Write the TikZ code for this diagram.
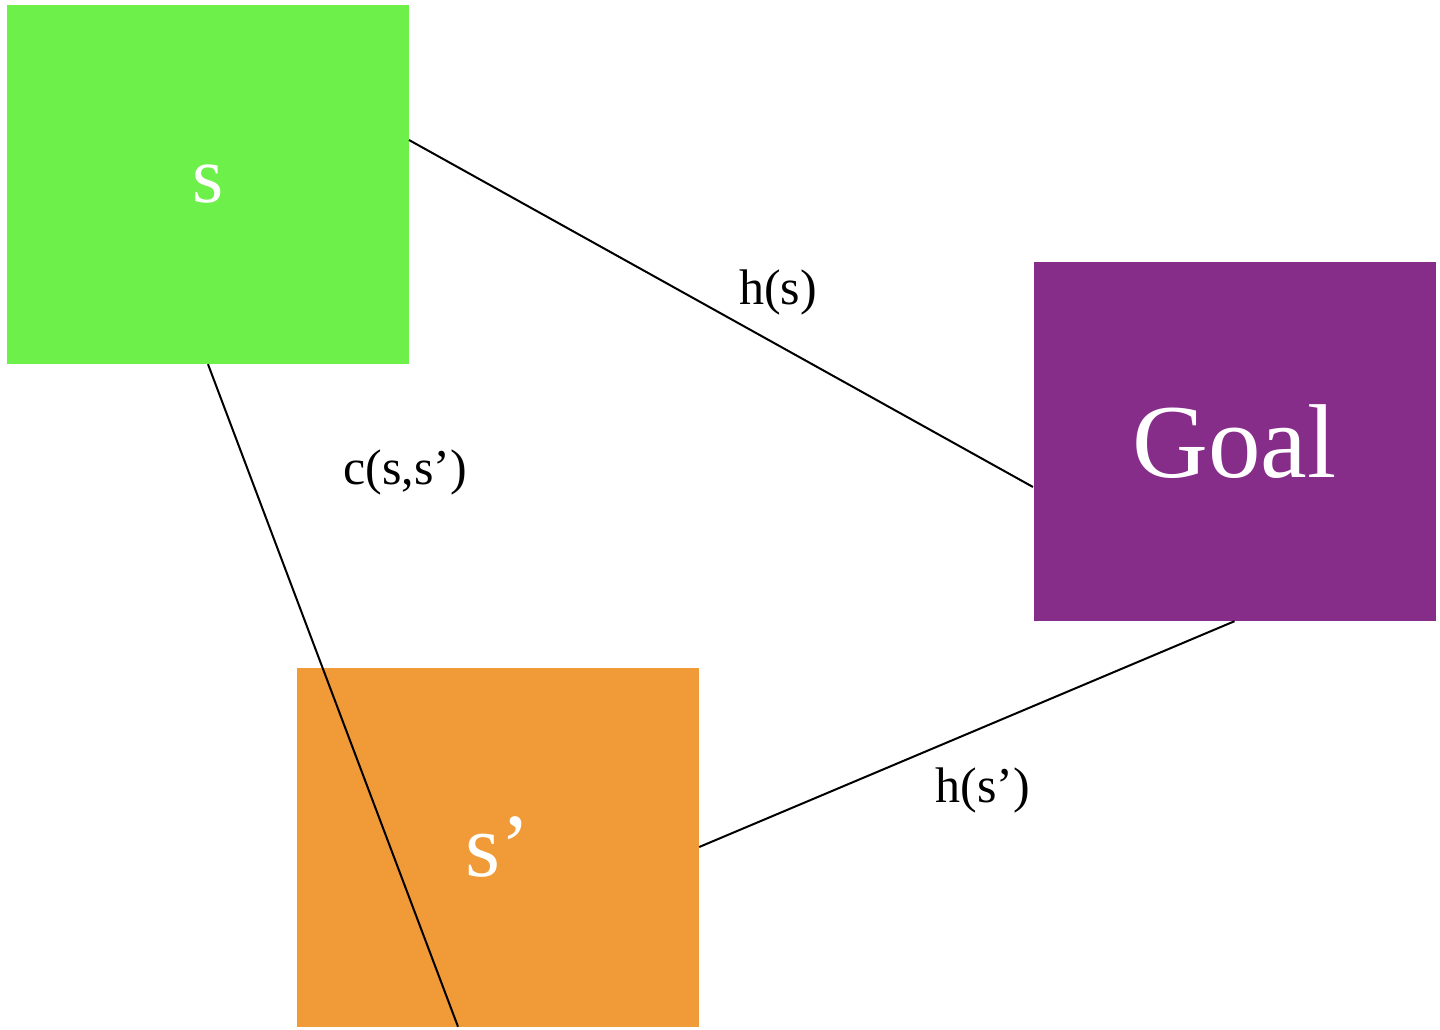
\documentclass[tikz,border=0pt]{standalone}
\usepackage{fontspec}
\setmainfont{Liberation Serif}
\definecolor{cS}{HTML}{6EF04A}
\definecolor{cG}{HTML}{862D8A}
\definecolor{cP}{HTML}{F09A38}
\begin{document}
\begin{tikzpicture}[x=1pt,y=-1pt,
  box/.style={draw=none,inner sep=0pt,minimum width=402pt,minimum height=359pt,text=white},
  lab/.style={font=\fontsize{50}{50}\selectfont},
  edge/.style={line width=2pt,black}]
\useasboundingbox (0,0) rectangle (1440,1029);
\node[box,fill=cS,font=\fontsize{80}{80}\selectfont] (s) at (208,184.5) {s};
\node[box,fill=cG,font=\fontsize{105}{105}\selectfont] (g) at (1234.5,441.5) {Goal};
\node[box,fill=cP,font=\fontsize{90}{90}\selectfont] (sp) at (498,847) {s’};
\coordinate (a) at (409,140);
\coordinate (b) at (1033,487);
\draw[edge] (a) -- (b);
\draw[edge] (s.south) -- (sp.south west -| 458,667);
\draw[edge] (sp.east) -- (g.south);
\node[lab] (l1) at (778,292) {h(s)};
\node[lab] (l2) at (405,472) {c(s,s’)};
\node[lab] (l3) at (983,790) {h(s’)};
\end{tikzpicture}
\end{document}
